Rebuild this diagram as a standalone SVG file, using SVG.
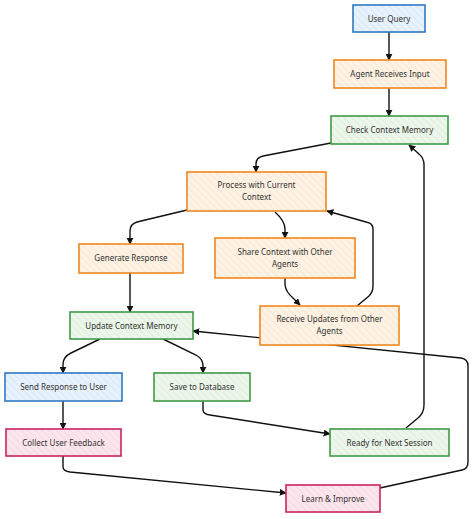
<svg xmlns="http://www.w3.org/2000/svg" width="474" height="519" viewBox="0 0 474 519">
<defs>
<pattern id="hb" width="5" height="5" patternUnits="userSpaceOnUse" patternTransform="rotate(-45)"><rect width="5" height="5" fill="#e8f2fc"/><line x1="0" y1="0" x2="0" y2="5" stroke="#c9def4" stroke-width="1"/></pattern>
<pattern id="ho" width="5" height="5" patternUnits="userSpaceOnUse" patternTransform="rotate(-45)"><rect width="5" height="5" fill="#fdf2e4"/><line x1="0" y1="0" x2="0" y2="5" stroke="#f8dfc0" stroke-width="1"/></pattern>
<pattern id="hg" width="5" height="5" patternUnits="userSpaceOnUse" patternTransform="rotate(-45)"><rect width="5" height="5" fill="#ecf6ea"/><line x1="0" y1="0" x2="0" y2="5" stroke="#d3e9cf" stroke-width="1"/></pattern>
<pattern id="hp" width="5" height="5" patternUnits="userSpaceOnUse" patternTransform="rotate(-45)"><rect width="5" height="5" fill="#fce6ee"/><line x1="0" y1="0" x2="0" y2="5" stroke="#f5c9d8" stroke-width="1"/></pattern>
<marker id="ah" viewBox="0 0 10 10" refX="9" refY="5" markerWidth="7" markerHeight="7" orient="auto" markerUnits="userSpaceOnUse"><path d="M0,0 L10,5 L0,10 Z" fill="#111"/></marker>
</defs>
<style>
.n rect{stroke-width:1.6}
.b rect{fill:url(#hb);stroke:#2f78c4}
.o rect{fill:url(#ho);stroke:#f0871f}
.g rect{fill:url(#hg);stroke:#3f9a48}
.p rect{fill:url(#hp);stroke:#c8235f}
.n text{font-family:"Noto Sans","DejaVu Sans",sans-serif;font-size:8px;fill:#333;text-anchor:middle}
#edges path{fill:none;stroke:#111;stroke-width:1.4;marker-end:url(#ah)}
</style>
<rect width="474" height="519" fill="#fff"/>
<g id="edges">
<path d="M389,32 L389,60"/>
<path d="M389,88 L389,116"/>
<path d="M331,143 L263,156 Q256,157.5 256,164 L256,172"/>
<path d="M187,210 L137,222 Q130,224 130,231 L130,244"/>
<path d="M275,212 Q285,221 285,229 L285,238"/>
<path d="M130,273 L130,312"/>
<path d="M285,278 L285,285 Q286,292 293,298 L300,305"/>
<path d="M357,306 L369,296 Q373,292 373,286 L373,229 Q373,223 366,222 L327,211"/>
<path d="M406,428 L418,418 Q424,413 424,405 L424,165 Q424,158 419,154 L409,145"/>
<path d="M100,339 L71,353 Q63,357 63,364 L63,373"/>
<path d="M163,339 L196,355 Q203,359 203,366 L203,373"/>
<path d="M63,401 L63,429"/>
<path d="M203,401 L203,410 Q203,414 210,415 L330,434"/>
<path d="M63,456 L63,467 Q63,471 70,472 L286,493"/>
<path d="M380,488 L462,470 Q468,469 468,462 L468,366 Q468,359 461,358 L193,331"/>
</g>
<g id="user-query" class="n b"><rect x="353" y="5" width="72" height="27"/><text x="389" y="21.5">User Query</text></g>
<g id="agent-receives-input" class="n o"><rect x="334" y="60" width="112" height="28"/><text x="390" y="76.5">Agent Receives Input</text></g>
<g id="check-context-memory" class="n g"><rect x="331" y="116" width="117" height="28"/><text x="389.5" y="132.5">Check Context Memory</text></g>
<g id="process-with-current-context" class="n o"><rect x="187" y="172" width="139" height="39"/><text x="256.5" y="188">Process with Current</text><text x="256.5" y="200">Context</text></g>
<g id="generate-response" class="n o"><rect x="79" y="244" width="104" height="29"/><text x="131" y="261">Generate Response</text></g>
<g id="share-context" class="n o"><rect x="215" y="238" width="140" height="40"/><text x="285" y="255">Share Context with Other</text><text x="285" y="267">Agents</text></g>
<g id="update-context-memory" class="n g"><rect x="70" y="312" width="123" height="27"/><text x="131.5" y="328.5">Update Context Memory</text></g>
<g id="receive-updates" class="n o"><rect x="260" y="306" width="139" height="39"/><text x="329.5" y="322">Receive Updates from Other</text><text x="329.5" y="334">Agents</text></g>
<g id="send-response-to-user" class="n b"><rect x="5" y="373" width="117" height="28"/><text x="63.5" y="389.5">Send Response to User</text></g>
<g id="save-to-database" class="n g"><rect x="154" y="373" width="96" height="28"/><text x="202" y="389.5">Save to Database</text></g>
<g id="collect-user-feedback" class="n p"><rect x="6" y="429" width="115" height="27"/><text x="63.5" y="445.5">Collect User Feedback</text></g>
<g id="ready-for-next-session" class="n g"><rect x="330" y="429" width="119" height="27"/><text x="389.5" y="445.5">Ready for Next Session</text></g>
<g id="learn-improve" class="n p"><rect x="286" y="485" width="94" height="27"/><text x="333" y="501.5">Learn &amp; Improve</text></g>
</svg>
